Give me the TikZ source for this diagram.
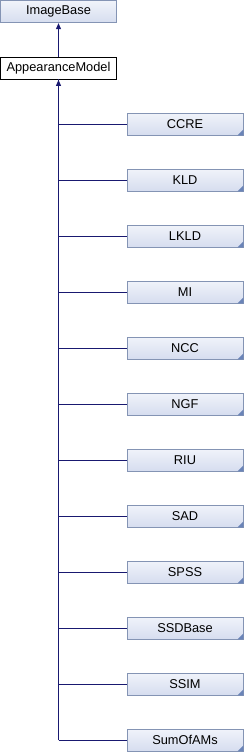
\documentclass[tikz,border=0pt]{standalone}
\usepackage{fontspec}
\setmainfont{Liberation Sans}
\usetikzlibrary{arrows.meta}
\definecolor{edgeblue}{HTML}{191970}
\definecolor{boxborder}{HTML}{8494B4}
\definecolor{filltop}{HTML}{F0F3FA}
\definecolor{fillbot}{HTML}{D6DDEF}
\definecolor{cornerc}{HTML}{6A84B8}
\tikzset{
  classbox/.style={draw=boxborder, line width=0.8pt, top color=filltop, bottom color=fillbot,
    minimum width=116pt, minimum height=22pt, inner sep=0pt, font=\fontsize{12.8}{14}\selectfont},
  mainbox/.style={draw=black, line width=0.8pt, fill=white,
    minimum width=116pt, minimum height=22pt, inner sep=0pt, font=\fontsize{12.8}{14}\selectfont},
  inherit/.style={draw=edgeblue, line width=0.9pt, -{Triangle[length=6pt,width=5pt]}},
  conn/.style={draw=edgeblue, line width=0.9pt},
}
\begin{document}
\begin{tikzpicture}[x=1pt,y=-1pt]
\useasboundingbox (0,0) rectangle (244,752);
\node[classbox] (base) at (58.5,11.75) {ImageBase};
\node[mainbox] (am) at (58.5,68) {AppearanceModel};
\foreach \n/\t [count=\i from 0] in {ccre/CCRE,kld/KLD,lkld/LKLD,mi/MI,ncc/NCC,ngf/NGF,riu/RIU,sad/SAD,spss/SPSS,ssdbase/SSDBase,ssim/SSIM,sumofams/SumOfAMs}{
  \node[classbox] (\n) at (185,124+56*\i) {\t};
  \fill[cornerc] ([xshift=-6pt]\n.south east) -- (\n.south east) -- ([yshift=6pt]\n.south east) -- cycle;
}
\draw[inherit] (am) -- (base);
\coordinate (bend) at (am.south |- sumofams.west);
\draw[conn] (bend) -- (am.south);
\draw[inherit] (bend) -- ([yshift=-0.5pt]am.south);
\foreach \n in {ccre,kld,lkld,mi,ncc,ngf,riu,sad,spss,ssdbase,ssim,sumofams}{
  \draw[conn] (am.south |- \n.west) -- (\n.west);
}
\end{tikzpicture}
\end{document}
